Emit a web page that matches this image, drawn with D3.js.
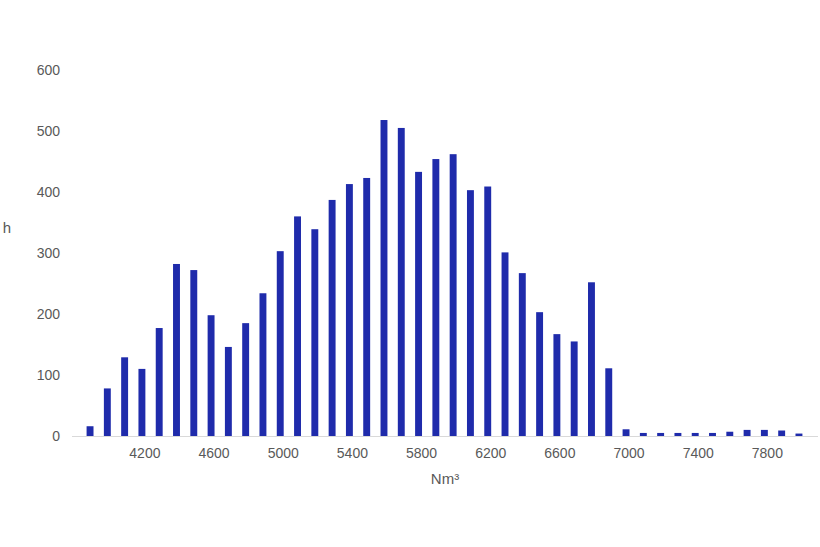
<!DOCTYPE html>
<html><head><meta charset="utf-8">
<script src="https://cdn.jsdelivr.net/npm/d3@7"></script>
<style>body{margin:0;background:#fff}text{font-family:"Liberation Sans",Arial,sans-serif}</style>
</head><body><svg id="c" width="820" height="547"></svg>
<script>
const categories = d3.range(3900, 8001, 100);
const values = [16,78,129,110,177,282,272,198,146,185,234,303,360,339,387,413,423,518,505,433,454,462,403,409,301,267,203,167,155,252,111,11,5,5,5,5,5,7,10,10,9,4];
const xTicks = [4200,4600,5000,5400,5800,6200,6600,7000,7400,7800];
const yTicks = [0,100,200,300,400,500,600];

const svg = d3.select("#c");
const x = d3.scaleBand().domain(categories).range([81.4, 807.6]).paddingInner(0.6).paddingOuter(0.3);
const y = d3.scaleLinear().domain([0,600]).range([436,70]);

svg.append("line").attr("x1",72).attr("x2",818).attr("y1",436.5).attr("y2",436.5).attr("stroke","#d9d9d9");
svg.selectAll("rect").data(values).join("rect")
  .attr("x",(d,i)=>x(categories[i])).attr("width",x.bandwidth())
  .attr("y",d=>y(d)).attr("height",d=>y(0)-y(d)).attr("fill","#1f2bab");
svg.selectAll(".yt").data(yTicks).join("text")
  .attr("x",60).attr("y",d=>y(d)+5).attr("text-anchor","end")
  .attr("font-size",14).attr("fill","#595959").text(d=>d);
svg.selectAll(".xt").data(xTicks).join("text")
  .attr("x",d=>x(d)+x.bandwidth()/2+3).attr("y",458).attr("text-anchor","middle")
  .attr("font-size",14).attr("fill","#595959").text(d=>d);
svg.append("text").attr("x",7).attr("y",233).attr("text-anchor","middle").attr("font-size",15).attr("fill","#595959").text("h");
svg.append("text").attr("x",445).attr("y",484).attr("text-anchor","middle").attr("font-size",15).attr("fill","#595959").text("Nm³");
</script></body></html>
